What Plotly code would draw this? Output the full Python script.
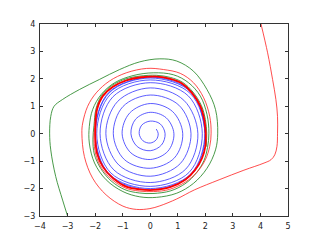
import plotly.graph_objects as go

# Blue spiral (from near origin out to limit cycle)
blue_x = [0.22, 0.29, 0.22, 0.0, -0.26, -0.40, -0.31, 0.0, 0.36,
          0.54, 0.41, 0.0, -0.47, -0.70, -0.53, 0.0, 0.58,
          0.86, 0.64, 0.0, -0.70, -1.02, -0.75, 0.0, 0.81,
          1.18, 0.88, 0.0, -0.94, -1.34, -0.99, 0.0, 1.04,
          1.48, 1.09, 0.0, -1.14, -1.61, -1.18, 0.0, 1.22,
          1.73, 1.29, 0.0, -1.32, -1.82, -1.35, 0.0, 1.38,
          1.89, 1.41, 0.0, -1.43, -1.94, -1.44, 0.0, 1.46,
          1.98, 1.47, 0.0, -1.48, -1.99, -1.49, 0.0, 1.50,
          2.00, 1.50, 0.0, -1.50, -2.00, -1.50, 0.1, 1.52, 2.01]
blue_y = [0.17, 0.0, -0.22, -0.34, -0.26, 0.0, 0.31, 0.46, 0.36,
          0.0, -0.41, -0.62, -0.47, 0.0, 0.53, 0.78, 0.58,
          0.0, -0.64, -0.94, -0.70, 0.0, 0.75, 1.10, 0.81,
          0.0, -0.88, -1.26, -0.94, 0.0, 0.99, 1.41, 1.04,
          0.0, -1.09, -1.55, -1.14, 0.0, 1.18, 1.67, 1.22,
          0.0, -1.29, -1.78, -1.32, 0.0, 1.35, 1.86, 1.38,
          0.0, -1.41, -1.92, -1.43, 0.0, 1.44, 1.96, 1.46,
          0.0, -1.47, -2.00, -1.48, 0.0, 1.49, 2.03, 1.50,
          0.0, -1.49, -2.04, -1.50, 0.0, 1.51, 2.06, 1.51, 0.0]

# Green trajectory (enters from bottom-left)
green_x = [-3.0, -3.18, -3.43, -3.61, -3.65, -3.61, -3.49, -3.18, -2.57, -1.84,
           -1.11, -0.38, 0.35, 0.96, 1.57, 2.06, 2.37, 2.45, 2.37, 2.06,
           1.57, 0.96, 0.23, -0.38, -0.99, -1.60, -2.02, -2.21, -2.21, -2.09,
           -1.78, -1.29, -0.62, 0.11, 0.84, 1.39, 1.82, 2.06, 2.13, 2.08,
           1.95, 1.68, 1.30, 0.75, 0.10, -0.40, -0.92, -1.42, -1.80, -2.03,
           -2.08, -2.04, -1.97, -1.76, -1.38, -0.88, -0.38, 0.23, 0.74, 1.18,
           1.55, 1.86, 2.00, 2.05, 2.03]
green_y = [-3.0, -2.42, -1.56, -0.59, 0.02, 0.63, 1.0, 1.25, 1.61, 1.98,
           2.34, 2.62, 2.73, 2.65, 2.28, 1.61, 0.88, 0.02, -0.59, -1.26,
           -1.81, -2.17, -2.32, -2.30, -2.11, -1.68, -1.07, -0.34, 0.27, 0.88,
           1.43, 1.86, 2.12, 2.22, 2.15, 1.86, 1.37, 0.70, 0.02, -0.50,
           -0.98, -1.42, -1.80, -2.08, -2.18, -2.16, -2.04, -1.72, -1.26, -0.74,
           -0.20, 0.30, 0.90, 1.40, 1.76, 2.00, 2.10, 2.13, 2.05, 1.87,
           1.52, 1.02, 0.52, 0.02, -0.47]

# Red trajectory (enters from top-right)
red_x = [4.02, 4.26, 4.44, 4.56, 4.62, 4.62, 4.60, 4.52, 4.38, 4.13,
         3.40, 2.50, 1.60, 0.96, 0.35, -0.01, -0.50, -0.99, -1.60, -2.09,
         -2.39, -2.48, -2.45, -2.27, -1.96, -1.48, -0.87, -0.13, 0.48, 1.09,
         1.57, 1.94, 2.16, 2.21, 2.16, 2.00, 1.70, 1.28, 0.70, 0.11,
         -0.40, -0.90, -1.39, -1.77, -1.98, -2.04, -2.02, -1.95, -1.73, -1.36,
         -0.87, -0.38, 0.23, 0.72, 1.16, 1.52, 1.83, 1.97, 2.02, 2.00]
red_y = [4.0, 2.95, 1.98, 1.25, 0.63, 0.02, -0.46, -0.77, -0.95, -1.07,
         -1.33, -1.68, -2.05, -2.38, -2.63, -2.73, -2.76, -2.64, -2.23, -1.62,
         -0.83, 0.02, 0.39, 1.0, 1.49, 1.92, 2.22, 2.38, 2.34, 2.20,
         1.86, 1.31, 0.63, 0.02, -0.46, -0.95, -1.40, -1.76, -2.03, -2.11,
         -2.09, -1.98, -1.67, -1.24, -0.74, -0.22, 0.22, 0.89, 1.38, 1.72,
         1.96, 2.07, 2.09, 2.01, 1.84, 1.50, 1.01, 0.51, 0.02, -0.46]

# Limit cycle (converged red)
cycle_x = [2.00, 1.88, 1.63, 1.27, 0.72, 0.11, -0.38, -0.87, -1.35, -1.72,
           -1.93, -1.99, -1.99, -1.93, -1.72, -1.35, -0.87, -0.38, 0.23, 0.72,
           1.15, 1.51, 1.82, 1.96, 2.01, 2.00]
cycle_y = [-0.46, -0.89, -1.32, -1.68, -1.95, -2.05, -2.03, -1.93, -1.62, -1.20,
           -0.71, -0.22, 0.21, 0.88, 1.37, 1.71, 1.94, 2.05, 2.08, 2.00,
           1.83, 1.49, 1.00, 0.51, 0.02, -0.46]

x_ticks = [-4, -3, -2, -1, 0, 1, 2, 3, 4, 5]
y_ticks = [-3, -2, -1, 0, 1, 2, 3, 4]

fig = go.Figure()
fig.add_trace(go.Scatter(x=blue_x, y=blue_y, mode="lines",
                         line=dict(color="#3333ff", width=0.8, shape="spline", smoothing=1.0)))
fig.add_trace(go.Scatter(x=green_x, y=green_y, mode="lines",
                         line=dict(color="#1a801a", width=0.8, shape="spline", smoothing=1.0)))
fig.add_trace(go.Scatter(x=red_x, y=red_y, mode="lines",
                         line=dict(color="#ff2020", width=0.8, shape="spline", smoothing=1.0)))
fig.add_trace(go.Scatter(x=cycle_x, y=cycle_y, mode="lines",
                         line=dict(color="#ff0000", width=1.8, shape="spline", smoothing=1.0)))

axis_common = dict(showgrid=False, zeroline=False, showline=True, linecolor="#333333",
                   linewidth=1, mirror="ticks", ticks="inside", ticklen=3, automargin=False,
                   tickcolor="#333333", tickfont=dict(family="DejaVu Sans", size=8, color="#222222"))
fig.update_layout(
    width=320, height=240,
    margin=dict(l=40, r=32, t=24, b=24, autoexpand=False),
    paper_bgcolor="white", plot_bgcolor="white",
    showlegend=False,
    xaxis=dict(range=[-4, 5], tickvals=x_ticks, ticklabelstandoff=2, **axis_common),
    yaxis=dict(range=[-3, 4], tickvals=y_ticks, ticklabelstandoff=2, **axis_common),
)
fig.write_html("out.html")
